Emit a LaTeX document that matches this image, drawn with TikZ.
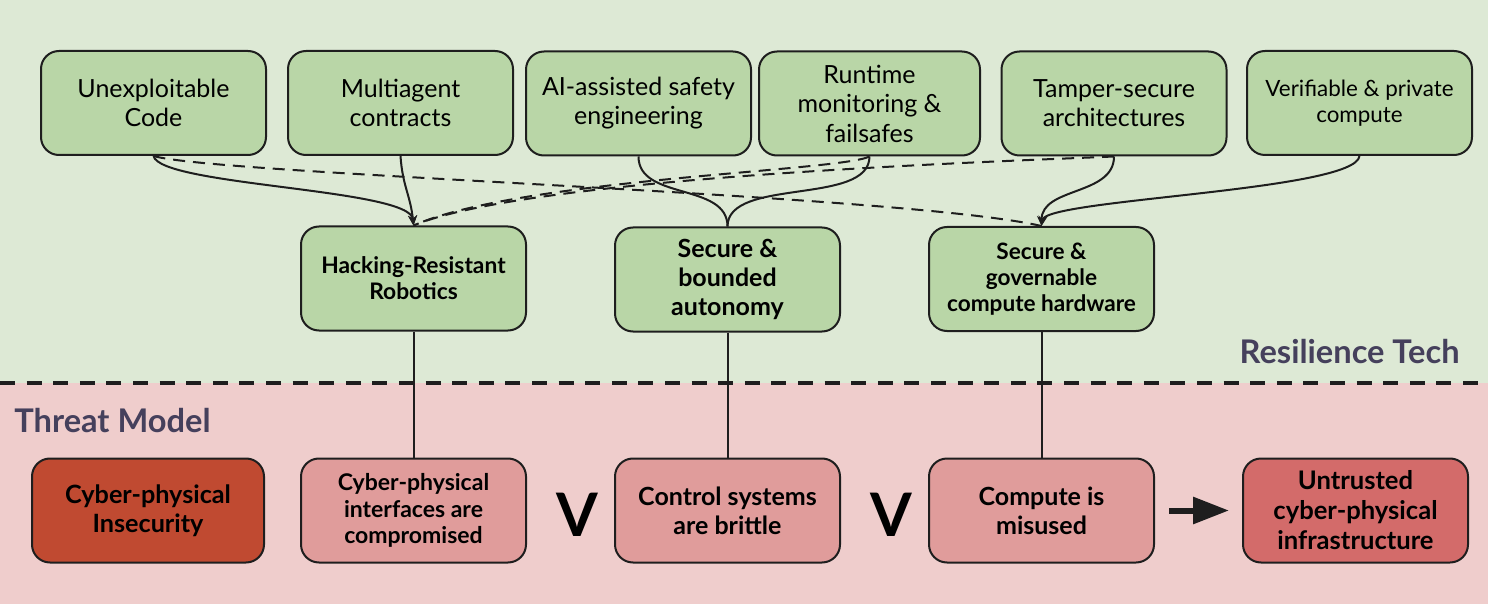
\documentclass[tikz,border=0pt]{standalone}
\usepackage{fontspec}
\setmainfont{Lato}
\usetikzlibrary{arrows.meta}
\definecolor{bggreen}{HTML}{DDE9D5}
\definecolor{bgpink}{HTML}{EFCDCC}
\definecolor{nodegreen}{HTML}{B9D6A7}
\definecolor{nodepink}{HTML}{E09C9B}
\definecolor{nodedark}{HTML}{C04A31}
\definecolor{nodeuntr}{HTML}{D36B6A}
\definecolor{labelcol}{HTML}{45405C}
\definecolor{edgecol}{HTML}{1E1E1E}
\begin{document}
\begin{tikzpicture}[x=0.5pt,y=-0.5pt,
  basebox/.style={draw=edgecol, line width=1pt, rounded corners=9pt,
    minimum width=112.5pt, minimum height=52pt, align=center, inner sep=2pt, text=black},
  tbox/.style={basebox, fill=nodegreen, font=\fontsize{12.5}{14.5}\selectfont},
  mbox/.style={basebox, fill=nodegreen, font=\bfseries\fontsize{11.4}{13}\selectfont},
  rbox/.style={basebox, fill=nodepink, font=\bfseries\fontsize{12.5}{14.5}\selectfont},
  link/.style={draw=edgecol, line width=1pt},
  dlink/.style={link, dash pattern=on 6pt off 4pt},
  tip/.style={-{Stealth[length=5pt,width=4.5pt]}},
  orsym/.style={font=\bfseries\fontsize{30}{30}\selectfont, inner sep=0pt},
  seclabel/.style={font=\bfseries\fontsize{16.3}{18}\selectfont, text=labelcol, inner sep=0pt}
]
\useasboundingbox (0,0) rectangle (1488,604);
\fill[bggreen] (0,0) rectangle (1488,383);
\fill[bgpink] (0,383) rectangle (1488,604);
\draw[edgecol, line width=2pt, dash pattern=on 7.5pt off 5.8pt] (0,383) -- (1488,383);

% top row
\node[tbox] (u1) at (153.5,103) {Unexploitable\\Code};
\node[tbox] (u2) at (400.5,103) {Multiagent\\contracts};
\node[tbox] (u3) at (638.5,103.5) {AI-assisted safety\\engineering};
\node[tbox, minimum width=110.5pt, font=\fontsize{12.5}{14.75}\selectfont] (u4) at (869.5,103.5) {Runtime\\monitoring \&\\failsafes};
\node[tbox] (u5) at (1114,103.5) {Tamper-secure\\architectures};
\node[tbox, font=\fontsize{11.2}{13}\selectfont] (u6) at (1359.5,103) {Verifiable \& private\\compute};

% middle row
\node[mbox] (m1) at (413.5,278.5) {Hacking-Resistant\\Robotics};
\node[mbox, font=\bfseries\fontsize{12.5}{14.5}\selectfont] (m2) at (727.5,279.5) {Secure \&\\bounded\\autonomy};
\node[mbox, font=\bfseries\fontsize{11.3}{13}\selectfont] (m3) at (1041.5,279) {Secure \&\\governable\\compute hardware};

% bottom row
\node[rbox, fill=nodedark, minimum width=116pt, font=\bfseries\fontsize{12.6}{14.5}\selectfont] (b0) at (148,510.5) {Cyber-physical\\Insecurity};
\node[rbox, font=\bfseries\fontsize{11.5}{13.25}\selectfont] (b1) at (413.5,510.5) {Cyber-physical\\interfaces are\\compromised};
\node[rbox] (b2) at (727.5,510.5) {Control systems\\are brittle};
\node[rbox] (b3) at (1041.5,510.5) {Compute is\\misused};
\node[rbox, fill=nodeuntr, font=\bfseries\fontsize{12.8}{15}\selectfont] (b4) at (1355.5,510.5) {Untrusted\\cyber-physical\\infrastructure};

% section labels
\node[seclabel, anchor=east] (rt) at (1460,352) {Resilience Tech};
\node[seclabel, anchor=west] (tm) at (14,421) {Threat Model};

% or symbols
\node[orsym] (or1) at (577,515) {V};
\node[orsym] (or2) at (891,515) {V};

% dashed links
\draw[dlink] (u1.south) .. controls +(66,19) and +(-141,-32) .. (m3.north);
\draw[dlink] (u4.south) .. controls +(-30,15) and +(107,-47) .. (m1.north);
\draw[dlink] (u5.south) .. controls +(-114,5) and +(117,-49) .. (m1.north);

% solid links
\draw[link, tip] (u1.south) .. controls +(7,30) and +(-3,-37) .. (m1.north);
\draw[link, tip] (u2.south) .. controls +(2,30) and +(-3,-30) .. (m1.north);
\draw[link] (u3.south) to[out=-90,in=90] (m2.north);
\draw[link] (u4.south) to[out=-90,in=90, looseness=0.8] (m2.north);
\draw[link, tip] (u5.south) to[out=-90,in=90] (m3.north);
\draw[link, tip] (u6.south) .. controls +(-4,35) and +(4,-27) .. (m3.north);

% vertical links
\draw[link] (m1.south) -- (b1.north);
\draw[link] (m2.south) -- (b2.north);
\draw[link] (m3.south) -- (b3.north);

% implication arrow
\draw[edgecol, line width=3pt, -{Triangle[length=18pt,width=13pt]}, shorten <=7pt, shorten >=6.5pt] (b3.east) -- (b4.west);
\end{tikzpicture}
\end{document}
